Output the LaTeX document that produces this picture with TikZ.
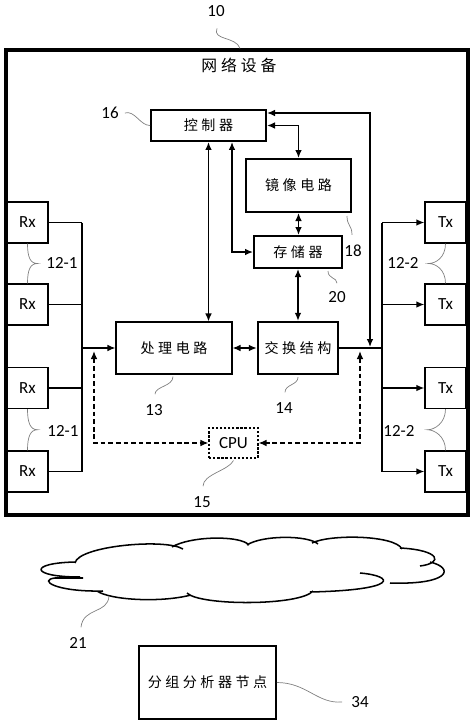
\documentclass[tikz,border=0pt]{standalone}
\usepackage{fontspec}
\setmainfont{Carlito}
\newfontfamily\cjk[LetterSpace=25]{Noto Sans CJK SC}
\usetikzlibrary{arrows.meta,calc}

\begin{document}
\begin{tikzpicture}[x=0.03cm, y=-0.03cm, >={Latex[length=2.4mm,width=2mm]},
    box/.style={draw, line width=1.7pt, inner sep=0pt, font=\cjk\fontsize{12pt}{14pt}\selectfont},
    port/.style={draw, line width=1.1pt, minimum width=1.23cm, minimum height=1.23cm, inner sep=0pt, font=\fontsize{14.5pt}{16pt}\selectfont},
    num/.style={inner sep=0pt, font=\fontsize{14.5pt}{16pt}\selectfont},
    link/.style={line width=1.2pt},
    cpulink/.style={line width=1.2pt, dash pattern=on 4pt off 2.5pt},
    lead/.style={draw=gray, line width=0.6pt}]
  \useasboundingbox (0,0) rectangle (474,724);

  \node[draw, line width=2.8pt, minimum width=13.86cm, minimum height=13.95cm] (dev) at (237,282.5) {};
  \node[font=\cjk\fontsize{13.5pt}{16pt}\selectfont] (title) at (239,65) {网络设备};

  \node[box, minimum width=3.45cm, minimum height=0.93cm] (ctrl) at (208.5,125.5) {控制器};
  \node[box, minimum width=3.15cm, minimum height=1.59cm] (mirror) at (298.5,185.5) {镜像电路};
  \node[box, minimum width=2.64cm, minimum height=0.96cm] (mem) at (298,252) {存储器};
  \node[box, line width=0.9pt, minimum width=3.48cm, minimum height=1.56cm] (proc) at (174,348) {处理电路};
  \node[box, line width=2pt, minimum width=2.4cm, minimum height=1.56cm] (sw) at (298,348) {交换结构};
  \node[draw, line width=0.9pt, dash pattern=on 2pt off 1.5pt, minimum width=1.47cm, minimum height=0.9cm, inner sep=0pt, font=\fontsize{14.5pt}{16pt}\selectfont] (cpu) at (233.5,443) {CPU};
  \node[box, line width=1.3pt, minimum width=4.11cm, minimum height=2.19cm] (ana) at (207.5,682.5) {分组分析器节点};

  \foreach \y [count=\i] in {222.5,304.5,388,471.5}{
    \node[port] (rx\i) at (27.5,\y) {Rx};
    \node[port] (tx\i) at (445.5,\y) {Tx};
  }

  \coordinate (rxbus) at (82,348);
  \coordinate (txbus) at (382,348);
  \coordinate (tap) at (370,347);
  \coordinate (cl) at (94,351);
  \coordinate (cr) at (360,351);

  \foreach \i in {1,...,4}{
    \draw[link] (rx\i.east) -- (rx\i.east -| rxbus);
    \draw[link,->] (tx\i.west -| txbus) -- (tx\i.west);
  }
  \draw[link] (rx1.east -| rxbus) -- (rx4.east -| rxbus);
  \draw[link] (tx1.west -| txbus) -- (tx4.west -| txbus);
  \draw[link,->] (rxbus) -- (proc.west);
  \draw[link] (sw.east) -- (txbus);

  \draw[link,<->] (ctrl.south) -- (ctrl.south |- proc.north);
  \draw[link,<->] ($(ctrl.south)+(23.5,0)$) |- (mem.west);
  \draw[link,<->] (ctrl.east) -| (mirror.north);
  \draw[link,<->] ($(ctrl.east)+(0,-12.5)$) -| (tap);
  \draw[link,<->] (mirror.south) -- (mirror.south |- mem.north);
  \draw[link,<->] (mem.south) -- (mem.south |- sw.north);
  \draw[link,<->] (proc.east) -- (sw.west);
  \draw[cpulink,<->] (cl) |- (cpu.west);
  \draw[cpulink,<->] (cr) |- (cpu.east);

  \draw[line width=1.3pt]
    (75,563) .. controls (78,546) and (165,538) .. (183,549)
    (172,547) .. controls (190,536) and (240,535) .. (249,545)
    (247,545) .. controls (262,535) and (308,535) .. (318,544)
    (312,543) .. controls (330,534) and (395,535) .. (402,549)
    (400,548) .. controls (440,550) and (444,563) .. (420,566)
    (430,562) .. controls (455,568) and (450,585) .. (390,583)
    (360,573) .. controls (395,576) and (400,590) .. (310,592)
    (313,591) .. controls (300,606) and (200,606) .. (187,593)
    (191,595) .. controls (160,603) and (110,600) .. (97,591)
    (103,591) .. controls (55,592) and (38,580) .. (55,578) -- (83,578)
    (80,577) .. controls (30,577) and (28,563) .. (75,562);
  \coordinate (c21) at (109,596);

  \node[num] (n10) at (216,11) {10};
  \node[num] (n16) at (110,113) {16};
  \node[num] (n18) at (353,251) {18};
  \node[num] (n20) at (337,297) {20};
  \node[num] (n13) at (154,410) {13};
  \node[num] (n14) at (284,408) {14};
  \node[num] (n15) at (202,502) {15};
  \node[num] (n21) at (78,643) {21};
  \node[num] (n34) at (360,702) {34};
  \node[num] (g1) at (62,263) {12-1};
  \node[num] (g2) at (63,431) {12-1};
  \node[num] (g3) at (403,263) {12-2};
  \node[num] (g4) at (399,431) {12-2};

  \draw[lead] ($(dev.north)+(3,0)$) .. controls +(-4,-12) and +(-5,12) .. ($(n10.south)+(1,11.6)$);
  \draw[lead] (ctrl.west) .. controls +(-10,0) and +(10,-3) .. ($(n16.east)+(6,0)$);
  \draw[lead] ($(mirror.south east)+(-5,3)$) .. controls +(0,10) and +(0,-10) .. ($(n18.north)+(-1,-10)$);
  \draw[lead] ($(mem.south)+(30,2)$) .. controls +(0,8) and +(0,-6) .. ($(n20.north)+(0,-8)$);
  \draw[lead] ($(proc.south)+(-1,2)$) .. controls +(0,10) and +(0,-8) .. ($(n13.north)+(1,-10)$);
  \draw[lead] ($(sw.south)+(0,2)$) .. controls +(0,8) and +(0,-8) .. ($(n14.north)+(1,-10)$);
  \draw[lead] ($(cpu.south)+(0,2)$) .. controls +(-5,10) and +(0,-12) .. ($(n15.north)+(1,-10)$);
  \draw[lead] (c21) .. controls +(-1,18) and +(2,-20) .. ($(n21.north)+(3,-10)$);
  \draw[lead] (ana.east) .. controls +(30,0) and +(-25,2) .. ($(n34.west)+(-9,0)$);

  \draw[lead] (rx1.south) .. controls +(0,14) and +(-7,0) .. ($(rx1.south)!0.5!(rx2.north)+(10,0)$)
    .. controls +(-7,0) and +(0,-14) .. (rx2.north);
  \draw[lead] (rx3.south) .. controls +(0,14) and +(-7,0) .. ($(rx3.south)!0.5!(rx4.north)+(10,0)$)
    .. controls +(-7,0) and +(0,-14) .. (rx4.north);
  \draw[lead] (tx1.south) .. controls +(0,14) and +(7,0) .. ($(tx1.south)!0.5!(tx2.north)+(-17,0)$)
    .. controls +(7,0) and +(0,-14) .. (tx2.north);
  \draw[lead] (tx3.south) .. controls +(0,14) and +(7,0) .. ($(tx3.south)!0.5!(tx4.north)+(-18,0)$)
    .. controls +(7,0) and +(0,-14) .. (tx4.north);
\end{tikzpicture}
\end{document}
